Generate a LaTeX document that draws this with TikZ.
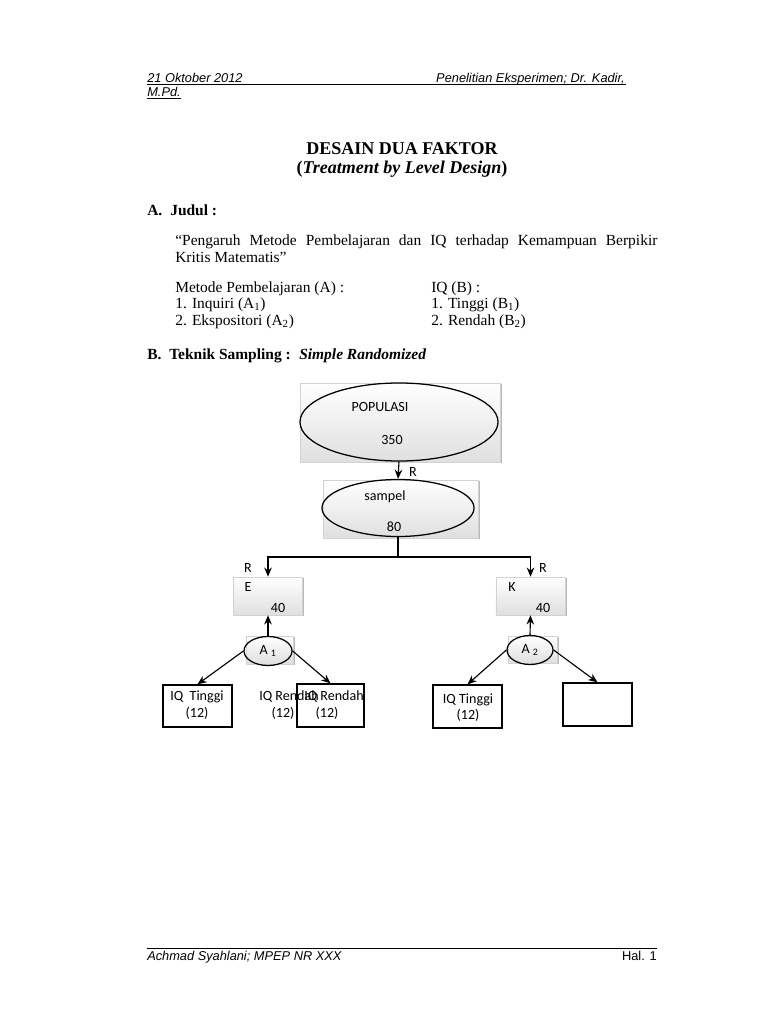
\documentclass[tikz,border=0pt]{standalone}
\usepackage{fontspec}
\setmainfont{Liberation Serif}
\newfontfamily\arialfont{Liberation Sans}
\newfontfamily\calibrifont{Carlito}
\usetikzlibrary{arrows.meta,shapes.geometric,shadows}

\tikzset{
  txt/.style={anchor=base west, inner sep=0pt, font=\fontsize{11}{13}\selectfont},
  hdr/.style={anchor=base west, inner sep=0pt, font=\arialfont\itshape\fontsize{9.1}{11}\selectfont},
  lbl/.style={inner sep=0pt, font=\calibrifont\fontsize{10}{12}\selectfont},
  shadebg/.style={top color=white, bottom color=gray!25, draw=gray!35, line width=0.4pt,
    drop shadow={shadow xshift=1.2pt, shadow yshift=-1pt, fill=gray!55, opacity=1}},
  oval/.style={ellipse, draw, line width=0.9pt, inner sep=0pt},
  box/.style={rectangle, draw, line width=0.9pt, inner sep=0pt, minimum width=1.725cm},
  arr/.style={line width=0.8pt, -{Stealth[length=2.3mm,width=1.9mm]}},
}

\begin{document}
\begin{tikzpicture}[x=0.025cm, y=-0.025cm]%1 unit = 1 px
  \fill[white] (0,0) rectangle (768,1024);

  % header
  \node[hdr] (date) at (147,83) {21 Oktober 2012};
  \node[hdr, anchor=base east] (hauth) at (625,83) {Penelitian Eksperimen; Dr. Kadir,};
  \node[hdr] (mpd) at (147,97) {M.Pd.};
  \draw[line width=0.5pt] (147,84.5) -- (626,84.5);
  \draw[line width=0.5pt] (147,98.5) -- (181,98.5);

  % title
  \node[anchor=base, inner sep=0pt, font=\bfseries\fontsize{12.8}{15}\selectfont] (title) at (402,155) {DESAIN DUA FAKTOR};
  \node[anchor=base, inner sep=0pt, font=\bfseries\fontsize{12.8}{15}\selectfont] (subtitle) at (402,174) {(\textit{Treatment by Level Design})};

  % A. Judul
  \node[txt, font=\bfseries\fontsize{11}{13}\selectfont] (secA) at (147,216) {A.};
  \node[txt, font=\bfseries\fontsize{11}{13}\selectfont] (judul) at (170,216) {Judul :};
  \node[txt] (quote1) at (175,245) {\makebox[12.05cm][s]{“Pengaruh Metode Pembelajaran dan IQ terhadap Kemampuan Berpikir}};
  \node[txt] (quote2) at (175,262) {Kritis Matematis”};
  \node[txt] (metode) at (175,292) {Metode Pembelajaran (A) :};
  \node[txt] (inquiri) at (175,308) {1. Inquiri (A\textsubscript{1})};
  \node[txt] (ekspo) at (175,325) {2. Ekspositori (A\textsubscript{2})};
  \node[txt] (iqb) at (431,292) {IQ (B) :};
  \node[txt] (tinggi) at (431,308) {1. Tinggi (B\textsubscript{1})};
  \node[txt] (rendah) at (431,325) {2. Rendah (B\textsubscript{2})};

  % B. Teknik Sampling
  \node[txt, font=\bfseries\fontsize{11}{13}\selectfont] (secB) at (147,359) {B.};
  \node[txt, font=\bfseries\fontsize{11}{13}\selectfont] (teknik) at (169,359) {Teknik Sampling :};
  \node[txt, font=\bfseries\itshape\fontsize{11}{13}\selectfont] (simple) at (299,359) {Simple Randomized};

  % populasi and sampel
  \path[shadebg] (300,383) rectangle (500,462);
  \node[oval, minimum width=4.95cm, minimum height=1.95cm] (pop) at (399,422) {};
  \node[lbl] (poptxt) at (380,407) {POPULASI};
  \node[lbl] (popn) at (392,440) {350};

  \path[shadebg] (323,480) rectangle (478,538);
  \node[oval, minimum width=3.8cm, minimum height=1.425cm] (samp) at (398,508) {};
  \node[lbl] (samptxt) at (385,497) {sampel};
  \node[lbl] (sampn) at (394,527) {80};

  \draw[arr] (pop.south) -- (samp.north);
  \node[lbl] (r0) at (413,472) {R};

  % kelompok E dan K
  \node[box, shadebg, minimum height=0.95cm] (grpE) at (268,596) {};
  \node[lbl] (etxt) at (248,587) {E};
  \node[lbl] (en) at (278,608) {40};
  \node[box, shadebg, minimum height=0.95cm] (grpK) at (530.5,596) {};
  \node[lbl] (ktxt) at (512,587) {K};
  \node[lbl] (kn) at (543,608) {40};

  \coordinate (split) at (398,557);
  \draw[line width=0.8pt] (samp.south) -- (split);
  \draw[arr] (split) -| (grpE.north);
  \draw[arr] (split) -| (grpK.north);
  \node[lbl] (r1) at (248,568) {R};
  \node[lbl] (r2) at (543,568) {R};

  % faktor A
  \path[shadebg] (246,636) rectangle (293,664);
  \node[oval, minimum width=1.2cm, minimum height=0.725cm] (a1) at (268,651) {};
  \node[lbl] (a1txt) at (268,651) {A \textsubscript{1}};
  \path[shadebg] (508,636) rectangle (557,663);
  \node[oval, minimum width=1.15cm, minimum height=0.725cm] (a2) at (530,650) {};
  \node[lbl] (a2txt) at (530,650) {A \textsubscript{2}};

  \draw[arr] (a1.north) -- (grpE.south);
  \draw[arr] (a2.north) -- (grpK.south);

  % level IQ
  \node[box, minimum height=1.05cm] (tinggiE) at (197.5,706) {};
  \node[lbl] (tinggiEt) at (197,697) {IQ\ \ Tinggi};
  \node[lbl] (tinggiEn) at (197,713) {(12)};
  \node[lbl] (strayt) at (289,697) {IQ Rendah};
  \node[lbl] (strayn) at (283,713) {(12)};
  \node[box, minimum width=1.675cm, minimum height=1.075cm] (rendahE) at (330.5,705.5) {};
  \node[lbl] (rendahEt) at (334,697) {IQ Rendah};
  \node[lbl] (rendahEn) at (327,713) {(12)};

  \node[box, minimum height=1.075cm] (tinggiK) at (467.5,706.5) {};
  \node[lbl] (tinggiKt) at (468,700) {IQ Tinggi};
  \node[lbl] (tinggiKn) at (468,715) {(12)};
  \node[box, minimum height=1.075cm] (kosongK) at (597.5,704.5) {};

  \draw[arr] (a1.west) -- (tinggiE.north);
  \draw[arr] (a1.east) -- (rendahE.north);
  \draw[arr] (a2.west) -- (tinggiK.north);
  \draw[arr] (a2.east) -- (kosongK.north);

  % footer
  \draw[line width=0.5pt] (147,948) -- (657,948);
  \node[hdr] (foot) at (147,960) {Achmad Syahlani; MPEP NR XXX};
  \node[hdr, anchor=base east, font=\arialfont\fontsize{9.1}{11}\selectfont] (hal) at (657,960) {Hal. 1};
\end{tikzpicture}
\end{document}
